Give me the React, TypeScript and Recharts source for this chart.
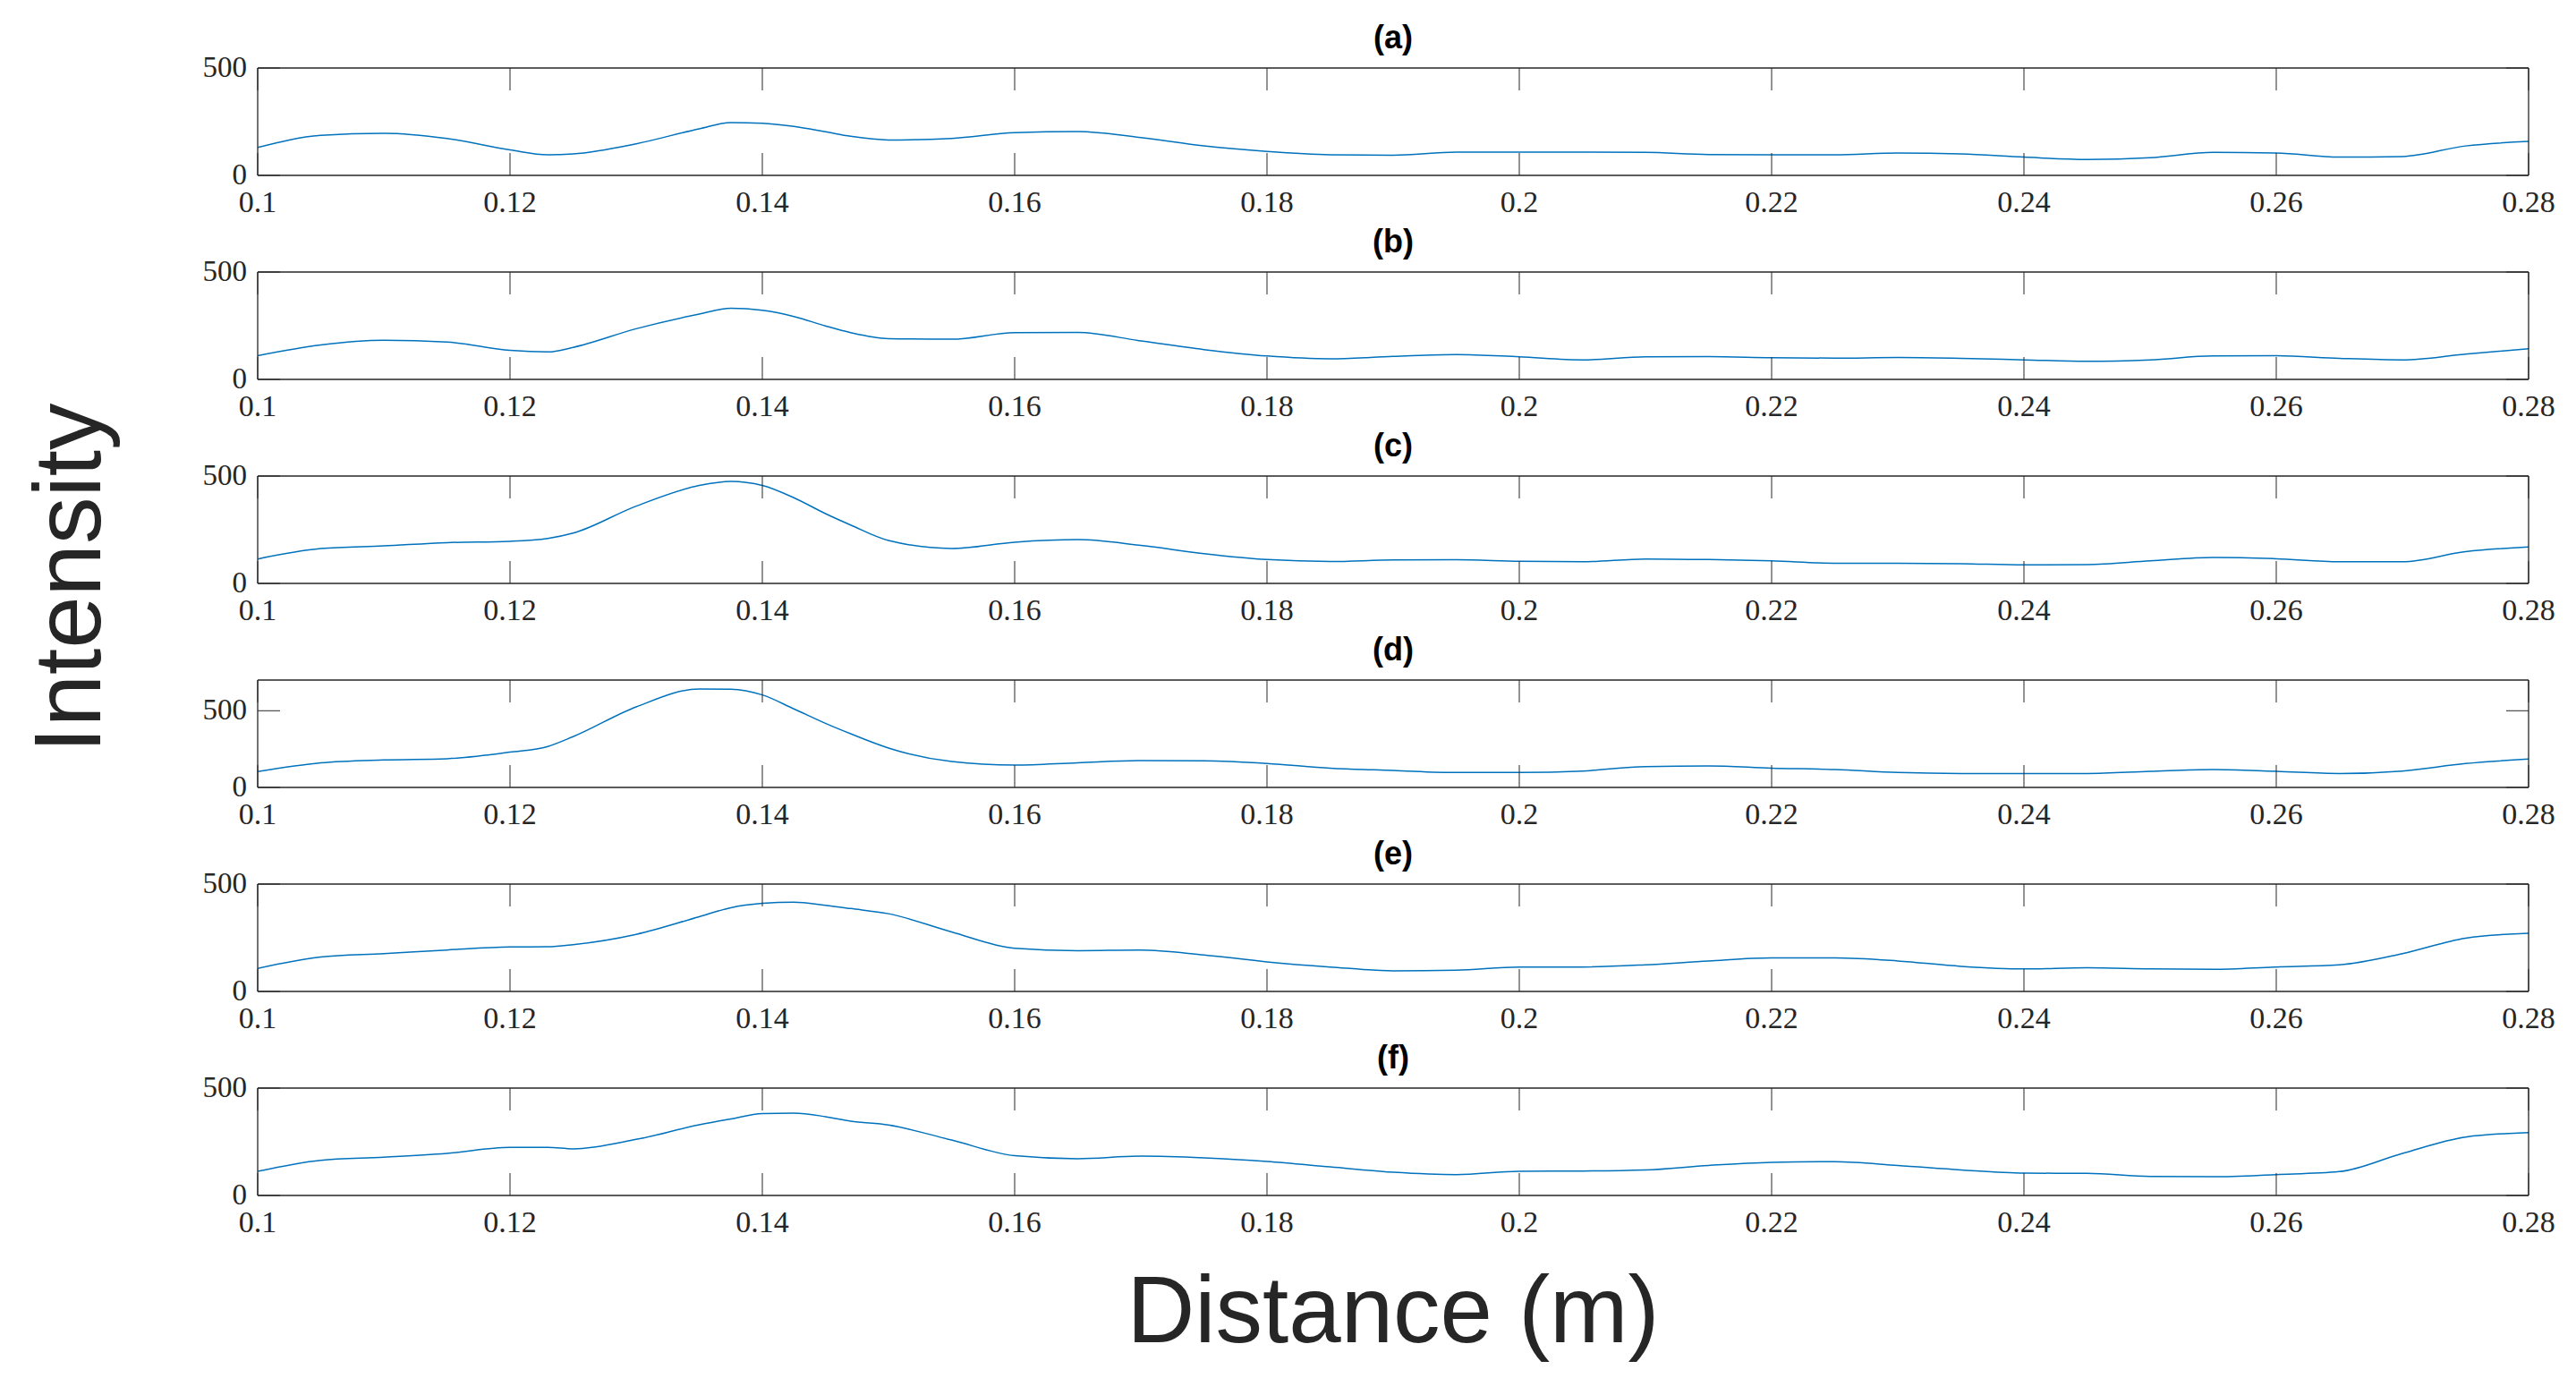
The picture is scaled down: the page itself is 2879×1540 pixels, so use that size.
import React from "react";
import { Line, LineChart, XAxis, YAxis } from "recharts";

// page + layout
const W = 2879;
const H = 1540;
const PLOT_LEFT = 288;
const PLOT_RIGHT = 2826;
const PLOT_TOP = 76;
const PLOT_H = 120;
const PITCH = 228;
const CHART_H = 256;
const TICK_LEN = 25;
const AXIS = "#262626";
const LINE = "#0072BD";
const SERIF = "'Liberation Serif', 'Times New Roman', serif";
const SANS = "'Liberation Sans', Arial, Helvetica, sans-serif";

// x positions (m) where the curves were read
const DIST = [
  0.1, 0.105, 0.11, 0.115, 0.12, 0.123, 0.125, 0.13, 0.135, 0.1375, 0.14, 0.1425, 0.145, 0.147,
  0.15, 0.155, 0.16, 0.165, 0.17, 0.175, 0.18, 0.185, 0.19, 0.195, 0.2, 0.205, 0.21, 0.215,
  0.22, 0.225, 0.23, 0.235, 0.24, 0.245, 0.25, 0.255, 0.26, 0.265, 0.27, 0.275, 0.28,
];

const PANEL_A = [
  130, 186, 196, 172, 119, 96, 100, 147, 217, 246, 243, 228, 203, 182,
  165, 172, 199, 204, 176, 137, 111, 96, 94, 108, 108, 108, 107, 97,
  96, 96, 104, 100, 85, 74, 82, 107, 104, 85, 88, 137, 158,
];
const PANEL_B = [
  110, 160, 182, 174, 135, 128, 149, 236, 304, 331, 322, 293, 249, 218,
  190, 187, 218, 219, 179, 139, 109, 96, 107, 116, 105, 91, 105, 106,
  101, 99, 102, 98, 91, 84, 91, 109, 110, 98, 91, 118, 143,
];
const PANEL_C = [
  114, 162, 175, 190, 196, 209, 234, 360, 456, 475, 456, 399, 325, 272,
  200, 163, 192, 204, 177, 139, 111, 102, 109, 110, 103, 101, 114, 111,
  105, 94, 94, 92, 86, 88, 105, 121, 115, 101, 101, 148, 170,
];
const PANEL_D = [
  103, 160, 179, 187, 230, 267, 331, 525, 642, 640, 603, 512, 418, 350,
  257, 169, 146, 161, 175, 173, 156, 126, 111, 97, 97, 107, 136, 140,
  126, 117, 97, 91, 91, 91, 105, 117, 105, 91, 107, 156, 185,
];
const PANEL_E = [
  107, 160, 176, 193, 207, 208, 218, 266, 348, 390, 410, 416, 401, 386,
  362, 277, 201, 190, 193, 170, 138, 114, 96, 99, 114, 114, 124, 142,
  156, 156, 142, 117, 105, 110, 105, 103, 114, 124, 176, 248, 271,
];
const PANEL_F = [
  112, 164, 178, 196, 224, 224, 217, 261, 329, 356, 381, 383, 367, 346,
  328, 258, 185, 171, 183, 175, 158, 133, 108, 97, 113, 114, 119, 140,
  154, 157, 140, 119, 104, 103, 89, 87, 97, 111, 196, 272, 293,
];

const X_TICKS = [0.1, 0.12, 0.14, 0.16, 0.18, 0.2, 0.22, 0.24, 0.26, 0.28];
const Y_TICKS = [0, 500];
const TITLES = ["(a)", "(b)", "(c)", "(d)", "(e)", "(f)"];
const Y_MAX = [500, 500, 500, 700, 500, 500];
const SERIES = [PANEL_A, PANEL_B, PANEL_C, PANEL_D, PANEL_E, PANEL_F];

function BottomTick(props: any) {
  const { x, y, payload } = props;
  return (
    <g>
      <line x1={x} x2={x} y1={y} y2={y - TICK_LEN} stroke={AXIS} strokeWidth={1} />
      <text x={x} y={y + 41} textAnchor="middle" fontFamily={SERIF} fontSize={34} fill={AXIS}>
        {String(payload.value)}
      </text>
    </g>
  );
}

function TopTick(props: any) {
  const { x, y } = props;
  return <line x1={x} x2={x} y1={y} y2={y + TICK_LEN} stroke={AXIS} strokeWidth={1} />;
}

function LeftTick(props: any) {
  const { x, y, payload } = props;
  return (
    <g>
      <line x1={x} x2={x + TICK_LEN} y1={y} y2={y} stroke={AXIS} strokeWidth={1} />
      <text x={x - 12} y={y + 10} textAnchor="end" fontFamily={SERIF} fontSize={33} fill={AXIS}>
        {String(payload.value)}
      </text>
    </g>
  );
}

function RightTick(props: any) {
  const { x, y } = props;
  return <line x1={x - TICK_LEN} x2={x} y1={y} y2={y} stroke={AXIS} strokeWidth={1} />;
}

function Panel({ index }: { index: number }) {
  const values = SERIES[index];
  const rows = DIST.map((d, k) => ({ d, v: values[k] }));
  const axisLine = { stroke: AXIS, strokeWidth: 1.3 };
  return (
    <div style={{ position: "absolute", left: 0, top: index * PITCH, width: W, height: CHART_H }}>
      <LineChart
        width={W}
        height={CHART_H}
        data={rows}
        margin={{ top: 0, right: 0, bottom: 0, left: 0 }}
      >
        <XAxis
          xAxisId="bottom"
          dataKey="d"
          type="number"
          domain={[0.1, 0.28]}
          ticks={X_TICKS}
          interval={0}
          height={CHART_H - PLOT_TOP - PLOT_H}
          tickSize={0}
          tickMargin={0}
          tickLine={false}
          axisLine={axisLine}
          tick={BottomTick}
          allowDataOverflow
        />
        <XAxis
          xAxisId="top"
          orientation="top"
          dataKey="d"
          type="number"
          domain={[0.1, 0.28]}
          ticks={X_TICKS}
          interval={0}
          height={PLOT_TOP}
          tickSize={0}
          tickMargin={0}
          tickLine={false}
          axisLine={axisLine}
          tick={TopTick}
          allowDataOverflow
        />
        <YAxis
          yAxisId="left"
          type="number"
          domain={[0, Y_MAX[index]]}
          ticks={Y_TICKS}
          interval={0}
          width={PLOT_LEFT}
          tickSize={0}
          tickMargin={0}
          tickLine={false}
          axisLine={axisLine}
          tick={LeftTick}
          allowDataOverflow
        />
        <YAxis
          yAxisId="right"
          orientation="right"
          type="number"
          domain={[0, Y_MAX[index]]}
          ticks={Y_TICKS}
          interval={0}
          width={W - PLOT_RIGHT}
          tickSize={0}
          tickMargin={0}
          tickLine={false}
          axisLine={axisLine}
          tick={RightTick}
          allowDataOverflow
        />
        <Line
          xAxisId="bottom"
          yAxisId="left"
          dataKey="v"
          type="monotone"
          dot={false}
          stroke={LINE}
          strokeWidth={1.5}
          isAnimationActive={false}
        />
      </LineChart>
    </div>
  );
}

export default function App() {
  const midX = (PLOT_LEFT + PLOT_RIGHT) / 2;
  return (
    <div
      style={{
        position: "absolute",
        left: 0,
        top: 0,
        width: W,
        height: H,
        background: "#fff",
        overflow: "hidden",
      }}
    >
      {TITLES.map((_, i) => (
        <Panel key={i} index={i} />
      ))}
      <svg
        width={W}
        height={H}
        style={{ position: "absolute", left: 0, top: 0, pointerEvents: "none" }}
      >
        {TITLES.map((t, i) => (
          <text
            key={t}
            x={midX}
            y={PLOT_TOP - 22 + i * PITCH}
            textAnchor="middle"
            fontFamily={SANS}
            fontWeight="bold"
            fontSize={36}
            fill="#000"
          >
            {t}
          </text>
        ))}
        <text
          x={112}
          y={646}
          transform="rotate(-90 112 646)"
          textAnchor="middle"
          fontFamily={SANS}
          fontSize={105}
          fill={AXIS}
        >
          Intensity
        </text>
        <text x={midX} y={1500} textAnchor="middle" fontFamily={SANS} fontSize={105} fill={AXIS}>
          Distance (m)
        </text>
      </svg>
    </div>
  );
}
